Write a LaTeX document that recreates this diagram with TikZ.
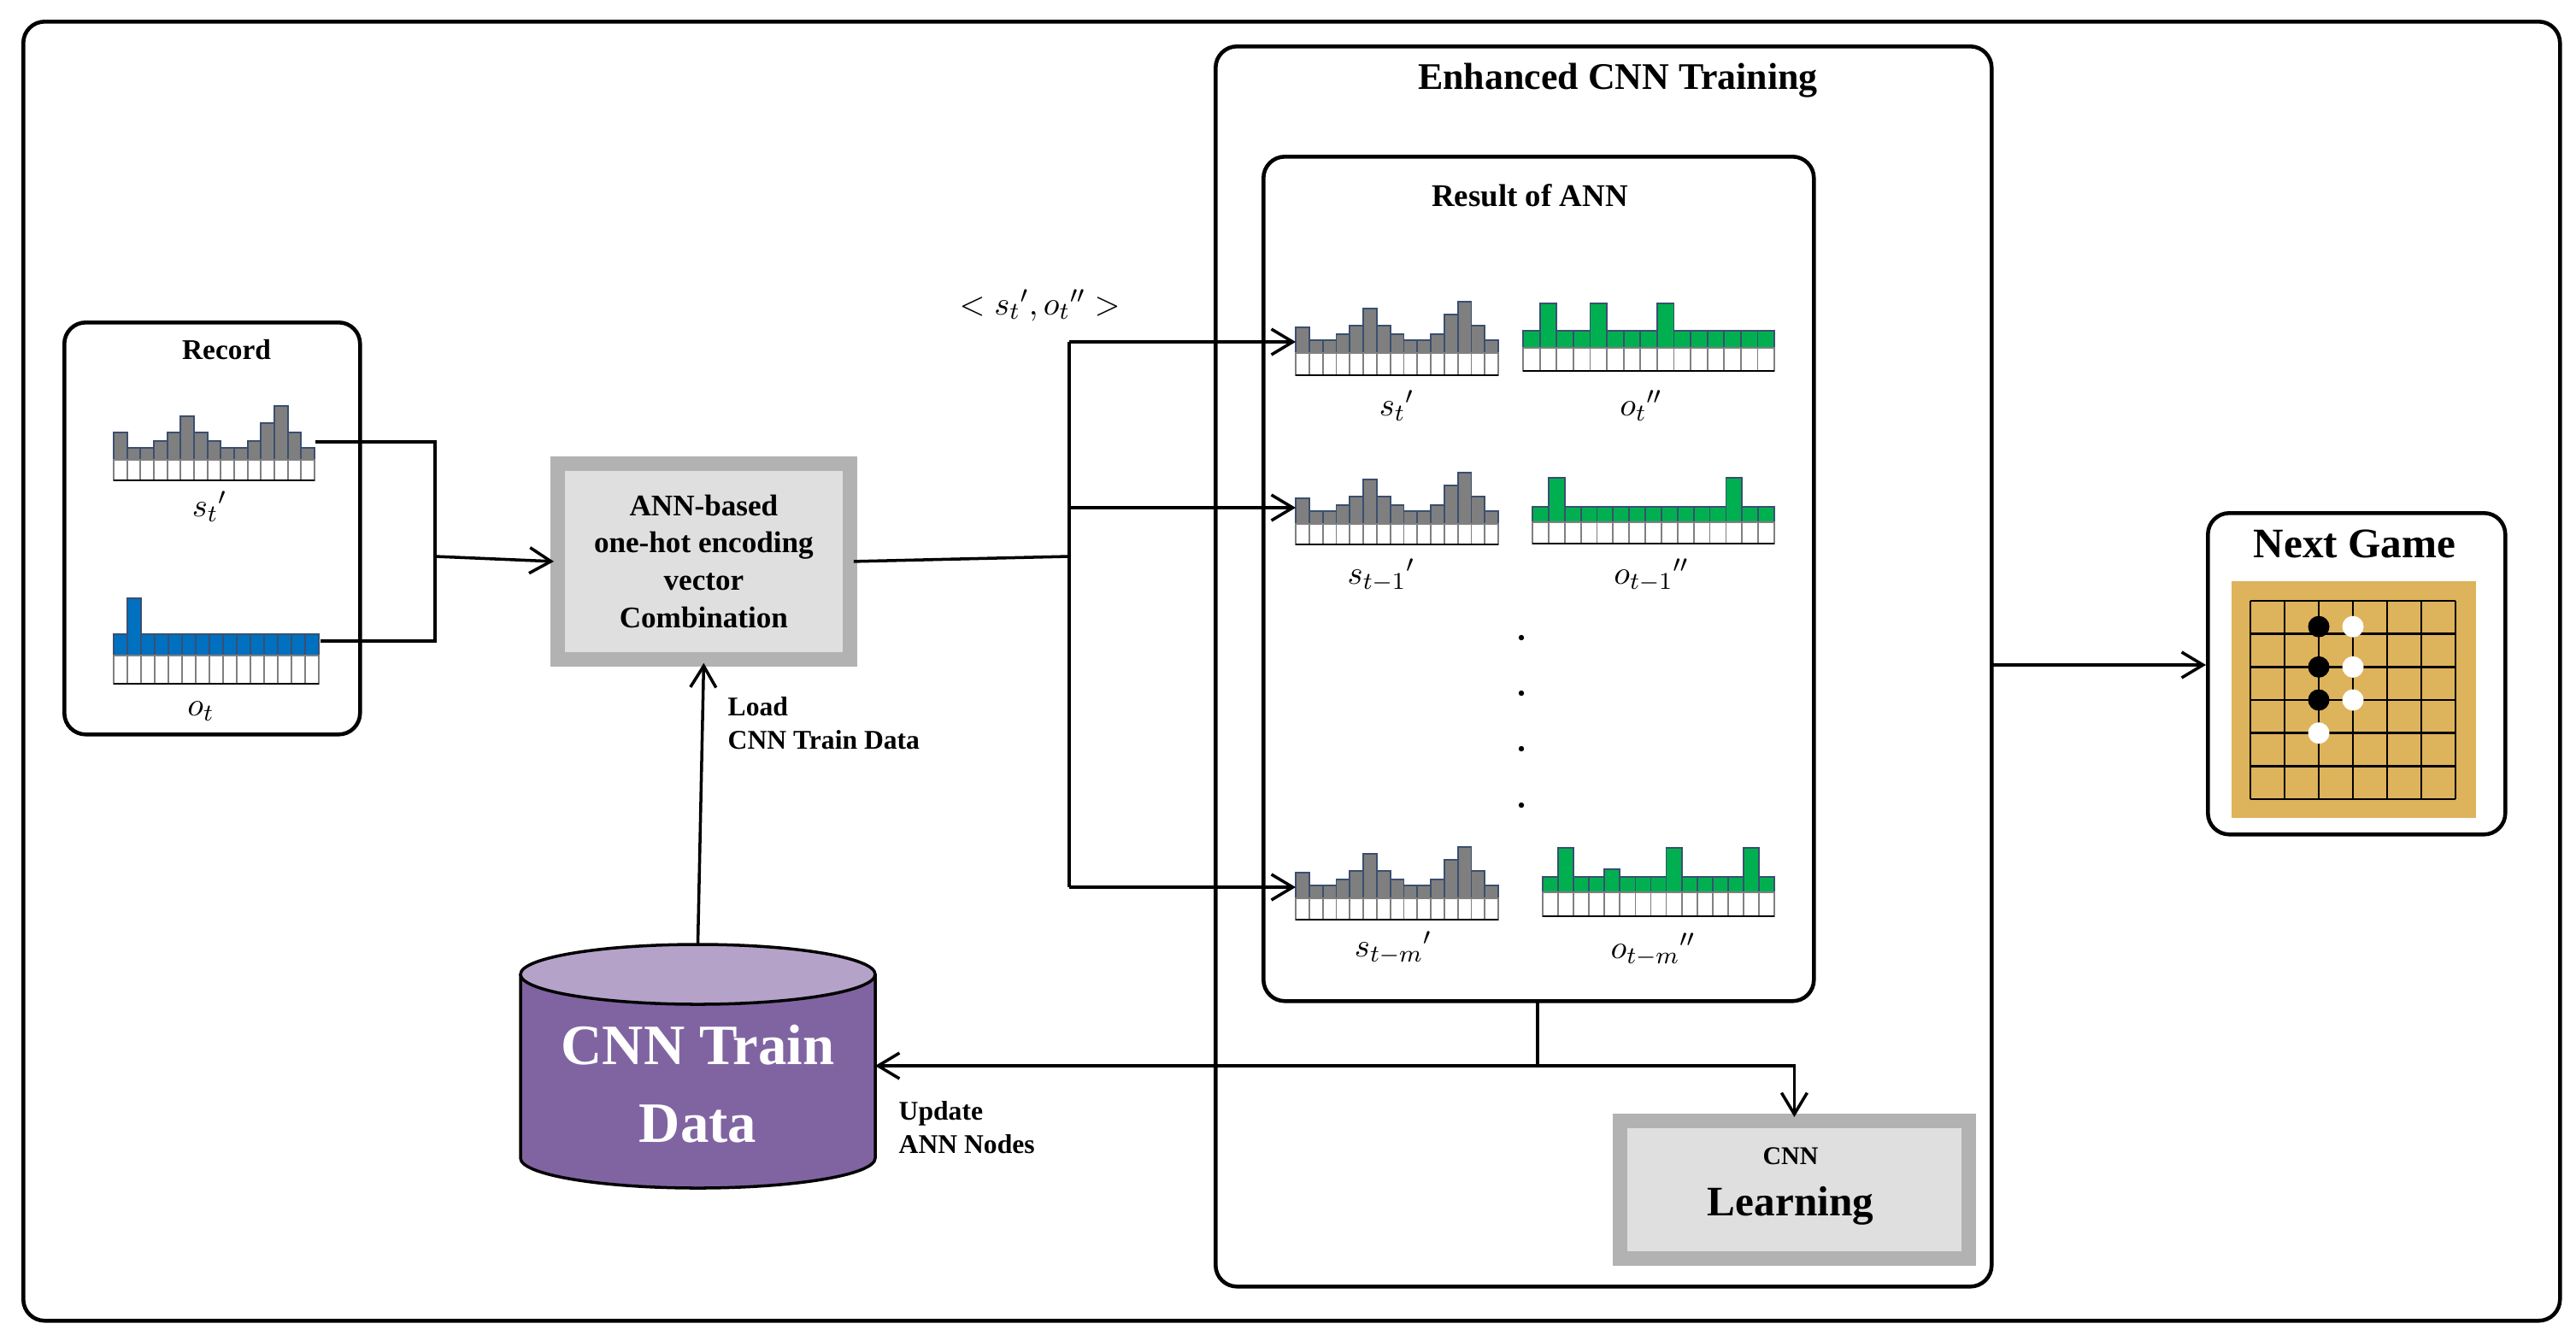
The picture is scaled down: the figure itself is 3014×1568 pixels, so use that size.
\documentclass[tikz,border=0pt]{standalone}
\usepackage{fontspec}
\setmainfont{Liberation Serif}
\usetikzlibrary{arrows.meta}
\definecolor{histgray}{HTML}{7F7F7F}
\definecolor{histedge}{HTML}{3A4F70}
\definecolor{histblue}{HTML}{0070C0}
\definecolor{histgreen}{HTML}{00B050}
\definecolor{cylbody}{HTML}{8064A2}
\definecolor{cyltop}{HTML}{B4A2C8}
\definecolor{board}{HTML}{DDB35C}
\newcommand{\myhist}[6]{%
  \pgfmathsetmacro\myw{(#3)/15}%
  \foreach \hh [count=\ii from 0] in {#5} {%
    \fill[#4, draw=histedge, line width=0.5pt] ({#1+\ii*\myw},#2) rectangle ++(\myw,-\hh);
    \draw[gray, line width=0.5pt, fill=white] ({#1+\ii*\myw},#2) rectangle ++(\myw,#6);
  }%
  \draw[line width=0.8pt] (#1,{#2+#6}) -- ++(#3,0);
}
\begin{document}
\begin{tikzpicture}[x=0.1mm,y=-0.1mm,
  box/.style={draw, line width=1.3pt, rounded corners=2.5mm},
  conn/.style={line width=1pt},
  arr/.style={line width=1pt,-{Straight Barb[length=2.5mm,width=3mm]}},
  lbl/.style={font=\bfseries\fontsize{9}{11}\selectfont, align=left, anchor=west, inner sep=0pt},
  math/.style={font=\fontsize{11}{13}\selectfont, inner sep=0pt},
  bevel/.style={fill=gray!25, draw=gray!60, line width=2.5pt, double=gray!35, double distance=0pt}]
\useasboundingbox (0,0) rectangle (3014,1568);
% outer frame
\node[box, minimum width=296.8mm, minimum height=152mm, anchor=north west, inner sep=0pt] (frame) at (25,23) {};
% Record
\node[box, minimum width=34.6mm, minimum height=48.2mm, anchor=north west, inner sep=0pt] (record) at (73,375) {};
\node[font=\bfseries\fontsize{9.5}{11}\selectfont] (rectitle) at (265,409) {Record};
\myhist{133}{538}{235}{histgray}{32,14,14,22,32,51,32,22,14,14,22,43,63,32,14}{24}
\myhist{133}{767}{240}{histblue}{25,67,25,25,25,25,25,25,25,25,25,25,25,25,25}{33}
\node[math] (rs) at (245,593) {$s_t{}'$};
\node[math] (ro) at (235,832) {$o_t$};
\coordinate (rsout) at (369,517);
\coordinate (roout) at (375,750);
\coordinate (rjoin) at (509,651);
% ANN box
\node[bevel, minimum width=34.2mm, minimum height=22.9mm, anchor=north west, inner sep=0pt] (ann) at (648,538) {};
\node[font=\bfseries\fontsize{10}{12.5}\selectfont, align=center] (anntext) at (ann.center) {ANN-based\\one-hot encoding\\vector\\Combination};
\draw[conn] (rsout) -| (rjoin);
\draw[conn] (roout) -| (rjoin);
\draw[arr] (rjoin) -- (ann.west);
% Cylinder
\fill[cylbody] (609,1140) -- (609,1355) arc[start angle=180,end angle=0,x radius=207.5,y radius=35] -- (1024,1140) -- cycle;
\draw[line width=1pt] (609,1140) -- (609,1355) arc[start angle=180,end angle=0,x radius=207.5,y radius=35] -- (1024,1140);
\draw[line width=1pt, fill=cyltop] (816.5,1140) ellipse [x radius=207.5, y radius=35];
\node[font=\bfseries\fontsize{19}{26}\selectfont, text=white, align=center] (cyl) at (816.5,1268) {CNN Train\\Data};
\coordinate (cyltopc) at (816.5,1105);
\coordinate (cylright) at (1024,1247);
\draw[arr] (cyltopc) -- (ann.south);
\node[lbl] (load) at (851,846) {Load\\CNN Train Data};
% Enhanced box
\node[box, minimum width=90.8mm, minimum height=145.1mm, anchor=north west, inner sep=0pt] (enh) at (1420,52) {};
\node[font=\bfseries\fontsize{12.5}{14}\selectfont] (enhtitle) at (1893,94) {Enhanced CNN Training};
\node[box, minimum width=64.4mm, minimum height=98.8mm, anchor=north west, inner sep=0pt] (res) at (1476,181) {};
\node[font=\bfseries\fontsize{10.5}{12}\selectfont] (restitle) at (1790,229) {Result of ANN};
% result histograms
\myhist{1516}{413}{237}{histgray}{30,15,15,22,32,52,32,22,15,15,22,45,60,32,15}{26}
\myhist{1782}{407}{294}{histgreen}{20,52,20,20,52,20,20,20,52,20,20,20,20,20,20}{27}
\myhist{1516}{613}{237}{histgray}{30,15,15,22,32,52,32,22,15,15,22,45,60,32,15}{24}
\myhist{1793}{611}{283}{histgreen}{18,52,18,18,18,18,18,18,18,18,18,18,52,18,18}{25}
\myhist{1516}{1051}{237}{histgray}{30,15,15,22,32,52,32,22,15,15,22,45,60,32,15}{25}
\myhist{1805}{1044}{271}{histgreen}{18,52,18,18,27,18,18,18,52,18,18,18,18,52,18}{28}
\node[math] (l1s) at (1634,475) {$s_t{}'$};
\node[math] (l1o) at (1920,475) {$o_t{}''$};
\node[math] (l2s) at (1616,673) {$s_{t-1}{}'$};
\node[math] (l2o) at (1932,673) {$o_{t-1}{}''$};
\node[math] (l3s) at (1630,1109) {$s_{t-m}{}'$};
\node[math] (l3o) at (1934,1111) {$o_{t-m}{}''$};
\foreach \yy [count=\k] in {746,811,876,942} \fill (1780,\yy) circle (3.2) coordinate (dot\k);
% fan-out
\coordinate (split) at (1251,651);
\coordinate (h1) at (1516,400);
\coordinate (h2) at (1516,594);
\coordinate (h3) at (1516,1038);
\draw[conn] (ann.east) -- (split);
\draw[conn] (1251,400) -- (1251,1038);
\draw[arr] (1251,400) -- (h1);
\draw[arr] (1251,594) -- (h2);
\draw[arr] (1251,1038) -- (h3);
\node[math, anchor=west] (pairlbl) at (1122,357) {$<s_t{}',o_t{}''>$};
% bottom
\coordinate (resb) at (1799,1169);
\coordinate (bj) at (1799,1247);
\node[bevel, minimum width=40.8mm, minimum height=16.1mm, anchor=north west, inner sep=0pt] (cnnl) at (1891,1307) {};
\node[font=\bfseries\fontsize{8.5}{10}\selectfont] (cnnsmall) at (2095,1353) {CNN};
\node[font=\bfseries\fontsize{14}{16}\selectfont] (cnnbig) at (2095,1411) {Learning};
\draw[conn] (resb) -- (bj);
\draw[arr] (bj) -- (cylright);
\draw[arr] (bj) -| (cnnl.north);
\node[lbl] (upd) at (1051,1319) {Update\\ANN Nodes};
% Next game
\node[box, minimum width=34.8mm, minimum height=37.6mm, anchor=north west, inner sep=0pt] (next) at (2581,598) {};
\node[font=\bfseries\fontsize{14}{16}\selectfont] (nexttitle) at (2755,636) {Next Game};
\fill[board] (2611,680) rectangle (2897,957);
\foreach \i in {0,...,6} {
  \draw[line width=0.7pt] ({2633+\i*40},703) -- ({2633+\i*40},935);
  \draw[line width=0.7pt] (2633,{703+\i*38.67}) -- (2873,{703+\i*38.67});
}
\foreach \r in {0.78,2,3} \fill[black] (2713,{703+\r*38.67}) circle (12.5);
\foreach \r in {0.78,2,3} \fill[white] (2753,{703+\r*38.67}) circle (12.5);
\fill[white] (2713,{703+4*38.67}) circle (12.5);
\coordinate (enhr) at (2328,778);
\draw[arr] (enhr) -- (next.west |- enhr);
\end{tikzpicture}
\end{document}
